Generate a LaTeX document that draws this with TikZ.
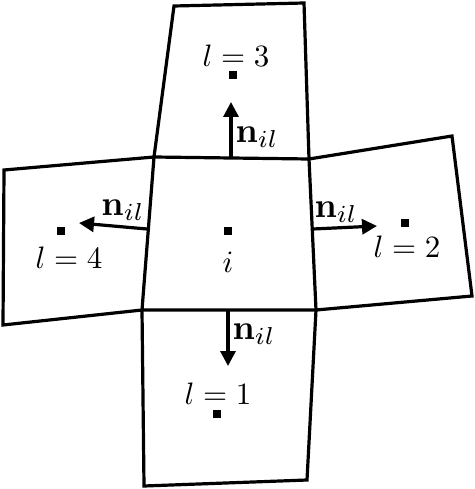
\documentclass[tikz,border=0pt]{standalone}
\usetikzlibrary{arrows.meta}
\begin{document}
\begin{tikzpicture}[x=1pt,y=-1pt,
  cell/.style={line width=3.2pt,line join=miter},
  normal/.style={line width=3.2pt,-{Triangle[length=15pt,width=15pt]}},
  ctr/.style={fill=black,inner sep=0pt,minimum width=8.5pt,minimum height=7.5pt,draw=none},
  lab/.style={scale=3.1,inner sep=0pt},
  nlab/.style={scale=3.5,inner sep=0pt}]
\useasboundingbox (0,0) rectangle (474,489);
% corners
\coordinate (c1) at (154,157);
\coordinate (c2) at (309,159);
\coordinate (c3) at (316,310);
\coordinate (c4) at (142,310);
\coordinate (t1) at (174,6);
\coordinate (t2) at (304,3);
\coordinate (r1) at (452,136);
\coordinate (r2) at (472,296);
\coordinate (l1) at (4,170);
\coordinate (l2) at (3,325);
\coordinate (b1) at (307,480);
\coordinate (b2) at (144,486);
% cells
\draw[cell] (c1) -- (c2) -- (c3) -- (c4) -- cycle;
\draw[cell] (c1) -- (t1) -- (t2) -- (c2);
\draw[cell] (c2) -- (r1) -- (r2) -- (c3);
\draw[cell] (c1) -- (l1) -- (l2) -- (c4);
\draw[cell] (c4) -- (b2) -- (b1) -- (c3);
% cell centres
\node[ctr] (pi) at (228,231) {};
\node[ctr] (p3) at (233,75) {};
\node[ctr] (p2) at (405,223) {};
\node[ctr] (p4) at (61,231) {};
\node[ctr] (p1) at (217,414) {};
% labels
\node[lab] (li) at (228,262) {$i$};
\node[lab] (l3) at (236,56) {$l=3$};
\node[lab] (l2t) at (407,247) {$l=2$};
\node[lab] (l4) at (69,258) {$l=4$};
\node[lab] (l1t) at (218,394) {$l=1$};
% normals
\coordinate (nu0) at (231,158);
\coordinate (nu1) at (231,102);
\coordinate (nr0) at (313,229);
\coordinate (nr1) at (377,226);
\coordinate (nl0) at (147,229);
\coordinate (nl1) at (79,223);
\coordinate (nd0) at (228,311);
\coordinate (nd1) at (228,366);
\draw[normal] (nu0) -- (nu1);
\draw[normal] (nr0) -- (nr1);
\draw[normal] (nl0) -- (nl1);
\draw[normal] (nd0) -- (nd1);
\node[nlab] (nu) at (257,137) {$\mathbf{n}_{il}$};
\node[nlab] (nr) at (336,212) {$\mathbf{n}_{il}$};
\node[nlab] (nl) at (123,210) {$\mathbf{n}_{il}$};
\node[nlab] (nd) at (254,334) {$\mathbf{n}_{il}$};
\end{tikzpicture}
\end{document}
